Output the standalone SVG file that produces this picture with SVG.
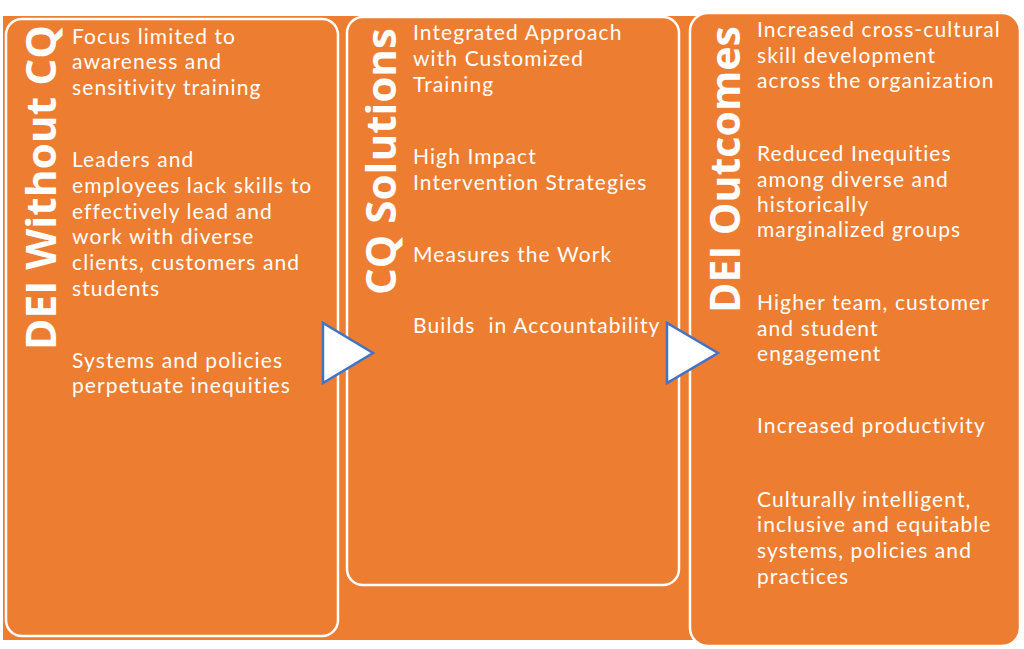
<svg xmlns="http://www.w3.org/2000/svg" width="1024" height="649" viewBox="0 0 1024 649">
<style>
.box{fill:#ED7D31;stroke:#FFFFFF;stroke-width:2.5}
.t{font-family:Lato,"Open Sans",sans-serif;font-size:21px;letter-spacing:1.1px;fill:#FFFFFF}
.h{font-family:"Open Sans",Lato,sans-serif;font-weight:bold;font-size:42px;fill:#FFFFFF}
.arr{fill:#FFFFFF;stroke:#4472C4;stroke-width:2.5;stroke-linejoin:miter}
</style>
<rect x="0" y="0" width="1024" height="649" fill="#FFFFFF"/>
<rect x="3" y="16" width="697" height="624" fill="#ED7D31"/>
<g id="node-dei-without-cq">
<rect class="box" x="6" y="19" width="332" height="617" rx="16"/>
<text class="h" transform="translate(56,350) rotate(-90)" textLength="325" lengthAdjust="spacingAndGlyphs">DEI Without CQ</text>
<text class="t" x="72" y="44">Focus limited to</text>
<text class="t" x="72" y="69">awareness and</text>
<text class="t" x="72" y="95">sensitivity training</text>
<text class="t" x="72" y="167">Leaders and</text>
<text class="t" x="72" y="193">employees lack skills to</text>
<text class="t" x="72" y="219">effectively lead and</text>
<text class="t" x="72" y="244">work with diverse</text>
<text class="t" x="72" y="270">clients, customers and</text>
<text class="t" x="72" y="296">students</text>
<text class="t" x="72" y="368">Systems and policies</text>
<text class="t" x="72" y="393">perpetuate inequities</text>
</g>
<g id="node-cq-solutions">
<rect class="box" x="347" y="17" width="332" height="568" rx="16"/>
<text class="h" transform="translate(396,295) rotate(-90)" textLength="267" lengthAdjust="spacingAndGlyphs">CQ Solutions</text>
<text class="t" x="413" y="40">Integrated Approach</text>
<text class="t" x="413" y="66">with Customized</text>
<text class="t" x="413" y="92">Training</text>
<text class="t" x="413" y="164">High Impact</text>
<text class="t" x="413" y="190">Intervention Strategies</text>
<text class="t" x="413" y="262">Measures the Work</text>
<text class="t" x="413" y="333" xml:space="preserve">Builds  in Accountability</text>
</g>
<g id="node-dei-outcomes">
<rect class="box" x="690" y="13" width="330" height="633" rx="18" stroke-width="1.5"/>
<text class="h" transform="translate(740,313) rotate(-90)" textLength="287" lengthAdjust="spacingAndGlyphs">DEI Outcomes</text>
<text class="t" x="757" y="37">Increased cross-cultural</text>
<text class="t" x="757" y="63">skill development</text>
<text class="t" x="757" y="88">across the organization</text>
<text class="t" x="757" y="161">Reduced Inequities</text>
<text class="t" x="757" y="187">among diverse and</text>
<text class="t" x="757" y="212">historically</text>
<text class="t" x="757" y="237">marginalized groups</text>
<text class="t" x="757" y="310">Higher team, customer</text>
<text class="t" x="757" y="336">and student</text>
<text class="t" x="757" y="361">engagement</text>
<text class="t" x="757" y="433">Increased productivity</text>
<text class="t" x="757" y="507">Culturally intelligent,</text>
<text class="t" x="757" y="532">inclusive and equitable</text>
<text class="t" x="757" y="558">systems, policies and</text>
<text class="t" x="757" y="584">practices</text>
</g>
<g id="connectors">
<polygon class="arr" points="323,323 323,383 373,353"/>
<polygon class="arr" points="667,323 667,383 718,353"/>
</g>
</svg>
